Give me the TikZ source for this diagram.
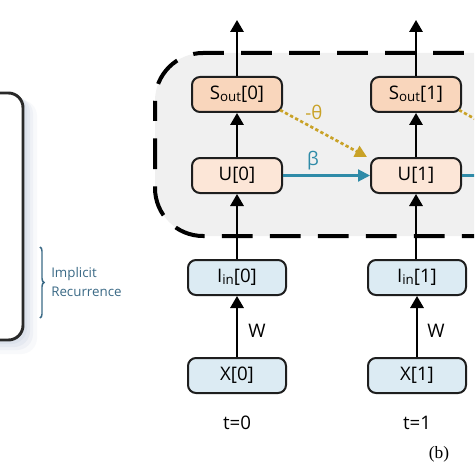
\documentclass[tikz,border=0pt]{standalone}
\usepackage{fontspec}
\setmainfont{Open Sans}
\newfontfamily\seriffam{Liberation Serif}
\usetikzlibrary{arrows.meta,decorations.pathreplacing,calc}
\definecolor{sfill}{HTML}{F9D6BC}
\definecolor{ufill}{HTML}{FCE6D7}
\definecolor{bfill}{HTML}{DCEBF3}
\definecolor{regfill}{HTML}{F0F0F0}
\definecolor{tealc}{HTML}{2F8BA8}
\definecolor{goldc}{HTML}{C9A227}
\definecolor{brc}{HTML}{3B6A86}
\definecolor{edgec}{HTML}{1E1E1E}
\definecolor{shadc}{HTML}{D5DCE8}
\newcommand\mysub[1]{\raisebox{-0.15ex}{\fontsize{10}{10}\selectfont #1}}
\begin{document}
\begin{tikzpicture}[x=0.75pt,y=-0.75pt,
  box/.style={draw=edgec,line width=1.5pt,rounded corners=6pt,minimum height=26.25pt,inner sep=0pt,font=\fontsize{14}{16}\selectfont},
  obox/.style={box,fill=sfill,minimum width=67.5pt},
  ubox/.style={box,fill=ufill,minimum width=67.5pt},
  bbox/.style={box,fill=bfill,minimum width=73.5pt},
  arr/.style={line width=1.6pt,draw=black,-{Triangle[length=9pt,width=10pt]}},
  tealarr/.style={line width=1.6pt,draw=tealc,-{Triangle[length=9pt,width=9pt,fill=tealc]}},
  goldarr/.style={line width=2pt,draw=goldc,dash pattern=on 2.5pt off 1.8pt,-{Triangle[length=9pt,width=9pt,fill=goldc]}},
  lbl/.style={font=\fontsize{14}{16}\selectfont,inner sep=0pt},
]
\useasboundingbox (0,0) rectangle (474,474);
\clip (0,0) rectangle (474,474);
\fill[white] (0,0) rectangle (474,474);
% left box with soft shadow
\foreach \d/\o in {14/0.15,10/0.25,7/0.35,4/0.5}{
  \fill[shadc,opacity=\o,rounded corners=12pt] (-60,{93+\d*0.5}) rectangle ({23+\d},{340+\d});
}
\draw[edgec!95,line width=2.2pt,fill=white,rounded corners=11pt] (-60,93) rectangle (23,340);
% brace and label
\draw[brc,line width=1.1pt,decorate,decoration={brace,amplitude=3pt}] (40,247) -- (40,318);
\node[brc,anchor=west,inner sep=0pt,font=\fontsize{10}{12}\selectfont] (imp) at (51,274) {Implicit};
\node[brc,anchor=west,inner sep=0pt,font=\fontsize{10}{12}\selectfont] (rec) at (51,292) {Recurrence};
% dashed region
\draw[line width=3pt,dash pattern=on 23pt off 13pt,dash phase=8pt,fill=regfill,rounded corners=36pt] (155,53) rectangle (560,236);
% nodes
\node[obox] (S0) at (237,94.5) {S\mysub{out}[0]};
\node[ubox] (U0) at (237,175.5) {U[0]};
\node[bbox] (I0) at (237,277.5) {I\mysub{in}[0]};
\node[bbox] (X0) at (237,375.5) {X[0]};
\node[obox] (S1) at (416,94.5) {S\mysub{out}[1]};
\node[ubox] (U1) at (416,175.5) {U[1]};
\node[bbox] (I1) at (417,277.5) {I\mysub{in}[1]};
\node[bbox] (X1) at (417,375.5) {X[1]};
\coordinate (T0) at (237,20);
\coordinate (T1) at (416,20);
\coordinate (E1) at (490,175.5);
\coordinate (G1) at (500,133);
% arrows
\draw[arr] (S0) -- (T0);
\draw[arr] (S1) -- (T1);
\draw[arr] (U0) -- (S0);
\draw[arr] (U1) -- (S1);
\draw[arr] (I0) -- (U0);
\draw[arr] (I1.north -| U1) -- (U1);
\draw[arr] (X0) -- (I0);
\draw[arr] (X1) -- (I1);
\draw[tealarr] (U0) -- (U1);
\draw[line width=1.6pt,draw=tealc] (U1) -- (E1);
\draw[goldarr] ($(S0.south east)+(-3,-3)$) -- ($(U1.north west)+(-3,0)$);
\draw[line width=2pt,draw=goldc,dash pattern=on 2.5pt off 1.8pt] ($(S1.south east)+(-3,-3)$) -- (G1);
% labels
\node[lbl,tealc] (beta) at (313,161) {β};
\node[lbl,goldc] (theta) at (314,112) {-θ};
\node[lbl] (w0) at (257,331) {W};
\node[lbl] (w1) at (436,331) {W};
\node[lbl] (t0) at (237,423) {t=0};
\node[lbl] (t1) at (417,423) {t=1};
\node[inner sep=0pt,font=\seriffam\fontsize{13}{15}\selectfont] (b) at (439,454) {(b)};
\end{tikzpicture}
\end{document}
